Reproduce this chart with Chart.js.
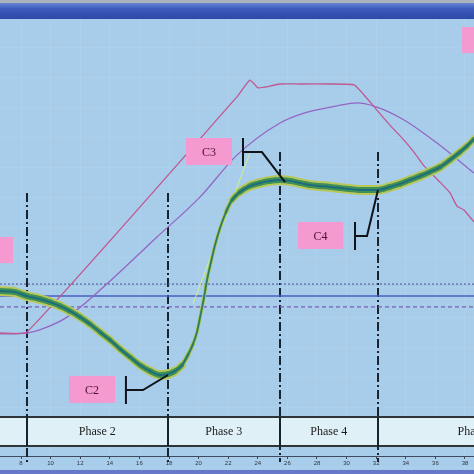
<!DOCTYPE html>
<html>
<head>
<meta charset="utf-8">
<script src="https://cdn.jsdelivr.net/npm/chart.js@4.4.1/dist/chart.umd.min.js"></script>
<style>
    html, body { margin: 0; padding: 0; background: #a7cdeb; }
    canvas { display: block; }
</style>
</head>
<body>
<canvas id="chart" width="474" height="474"></canvas>
<script>
// time axis (x) and signal levels (arbitrary units)
const signalX = [6.58, 7.53, 8.40, 9.28, 9.96, 10.63, 11.31, 11.99, 12.66, 13.34, 14.01, 14.69,
    15.36, 16.04, 16.72, 17.39, 17.93, 18.40, 18.88, 19.28, 19.62, 19.89, 20.09, 20.36, 20.57,
    20.84, 21.11, 21.45, 21.85, 22.26, 22.80, 23.47, 24.15, 24.82, 25.50, 26.18, 26.85, 27.53,
    28.20, 28.88, 29.55, 30.23, 30.91, 31.58, 32.12, 32.93, 33.61, 34.28, 34.96, 35.63, 36.31,
    36.99, 37.66, 38.13, 38.61];
const signalY = [58.7, 58.4, 57.0, 56.0, 55.0, 53.7, 52.0, 50.0, 47.7, 45.0, 42.4, 39.4,
    36.7, 34.0, 32.0, 30.7, 31.0, 32.0, 34.0, 37.4, 41.0, 45.0, 49.7, 56.4, 62.4,
    68.4, 74.0, 79.7, 85.0, 89.0, 91.7, 93.7, 94.7, 95.4, 95.7, 95.4, 94.7, 94.0,
    93.7, 93.4, 93.0, 92.7, 92.4, 92.4, 92.4, 93.4, 94.4, 95.7, 97.0, 98.4, 100.0,
    102.4, 105.0, 107.0, 109.4];

const setpointX = [6.58, 8.40, 22.59, 23.47, 24.01, 24.49, 25.50, 26.85, 28.88, 30.50, 31.24,
    32.05, 32.93, 33.88, 34.55, 35.23, 36.31, 36.99, 37.46, 37.93, 38.61];
const setpointY = [44.7, 45.0, 123.4, 129.0, 126.4, 126.7, 127.7, 127.7, 127.7, 127.4, 123.7,
    119.0, 114.0, 109.0, 105.0, 100.4, 95.0, 91.4, 87.0, 85.7, 81.7];

const responseX = [6.58, 8.40, 9.62, 11.11, 13.34, 17.19, 20.09, 22.59, 25.50, 27.12, 29.35,
    30.70, 32.05, 33.88, 36.11, 38.61];
const responseY = [44.4, 44.7, 46.4, 50.0, 59.0, 76.7, 90.0, 104.0, 114.7, 118.0, 120.4,
    121.4, 120.0, 115.7, 108.0, 98.0];

const tangentX = [19.62, 23.47];
const tangentY = [54.4, 104.7];

const refLevels = [61.0, 57.0, 53.4];

const phaseBounds = [8.4, 17.9, 25.5, 32.1];
const phaseLineTops = [91.4, 91.4, 105.0, 105.0];
const phaseLabels = ["Phase 1", "Phase 2", "Phase 3", "Phase 4", "Phase 5"];
const phaseLabelX = [5.2, 13.15, 21.7, 28.8, 38.75];

const xMin = 6.58;
const xMax = 38.61;

const noteBoxes = [
    { text: "", x0: 6.0, x1: 7.46, y0: 76.7, y1: 68.0 },
    { text: "C2", x0: 11.24, x1: 14.35, y0: 30.4, y1: 21.4 },
    { text: "C3", x0: 19.15, x1: 22.26, y0: 109.7, y1: 100.7 },
    { text: "C4", x0: 26.72, x1: 29.76, y0: 81.7, y1: 72.7 },
    { text: "", x0: 37.8, x1: 39.5, y0: 146.7, y1: 138.0 }
];

const brackets = [
    { x: 15.09, top: 30.4, bottom: 21.0, mid: 25.7, elbow: 16.24, tipX: 17.93, tipY: 30.7 },
    { x: 23.0, top: 109.7, bottom: 100.4, mid: 105.0, elbow: 24.28, tipX: 25.84, tipY: 95.0 },
    { x: 30.57, top: 81.7, bottom: 72.4, mid: 77.0, elbow: 31.38, tipX: 32.12, tipY: 92.4 }
];

function toPoints(xs, ys) {
    return xs.map((x, i) => ({ x, y: ys[i] }));
}

// noise band is vertical, so it looks thinner where the curve is steep
function bandWidth(base) {
    return ctx => {
        const dx = ctx.p1.x - ctx.p0.x;
        const dy = ctx.p1.y - ctx.p0.y;
        const c = Math.abs(dx) / (Math.hypot(dx, dy) || 1);
        return Math.max(base * c, base * 0.35);
    };
}

function signalLayer(color, width, order) {
    return {
        data: toPoints(signalX, signalY),
        borderColor: color,
        borderWidth: width,
        borderCapStyle: "round",
        borderJoinStyle: "round",
        cubicInterpolationMode: "monotone",
        segment: { borderWidth: bandWidth(width) },
        pointRadius: 0,
        order
    };
}

const refStyles = [
    { color: "#56629c", width: 1.2, dash: [2, 2] },
    { color: "#4b5cc2", width: 1.5, dash: [] },
    { color: "#7d5cb4", width: 1.2, dash: [4, 3] }
];

const refDatasets = refLevels.map((level, i) => ({
    data: [{ x: xMin, y: level }, { x: xMax, y: level }],
    borderColor: refStyles[i].color,
    borderWidth: refStyles[i].width,
    borderDash: refStyles[i].dash,
    pointRadius: 0,
    order: 10
}));

const decorPlugin = {
    id: "decor",
    beforeDraw(chart) {
        const { ctx, width, height } = chart;
        ctx.save();
        ctx.fillStyle = "#a7cdeb";
        ctx.fillRect(0, 0, width, height);
        ctx.restore();
    },
    beforeDatasetsDraw(chart) {
        const { ctx, width } = chart;
        const xs = chart.scales.x;
        const ys = chart.scales.y;
        const bandTop = ys.getPixelForValue(16.7);
        const bandBottom = ys.getPixelForValue(7.0);
        ctx.save();

        // phase band
        ctx.fillStyle = "#dff1f7";
        ctx.fillRect(0, bandTop, width, bandBottom - bandTop);
        ctx.strokeStyle = "#2e3438";
        ctx.lineWidth = 2;
        ctx.beginPath();
        ctx.moveTo(0, bandTop);
        ctx.lineTo(width, bandTop);
        ctx.moveTo(0, bandBottom);
        ctx.lineTo(width, bandBottom);
        ctx.stroke();

        ctx.fillStyle = "#1c1c1c";
        ctx.font = "12px 'Liberation Serif', serif";
        ctx.textAlign = "center";
        ctx.textBaseline = "middle";
        phaseLabels.forEach((label, i) => {
            ctx.fillText(label, xs.getPixelForValue(phaseLabelX[i]), (bandTop + bandBottom) / 2);
        });

        // phase boundaries
        phaseBounds.forEach((b, i) => {
            const x = Math.round(xs.getPixelForValue(b));
            ctx.strokeStyle = "#17232e";
            ctx.lineWidth = 2;
            ctx.setLineDash([9, 3, 2, 3]);
            ctx.beginPath();
            ctx.moveTo(x, ys.getPixelForValue(phaseLineTops[i]));
            ctx.lineTo(x, ys.getPixelForValue(1.7));
            ctx.stroke();
            ctx.setLineDash([]);
            ctx.beginPath();
            ctx.moveTo(x, bandTop);
            ctx.lineTo(x, bandBottom);
            ctx.stroke();
        });
        ctx.restore();
    },
    afterDatasetsDraw(chart) {
        const { ctx } = chart;
        const xs = chart.scales.x;
        const ys = chart.scales.y;
        ctx.save();

        noteBoxes.forEach(box => {
            const x0 = xs.getPixelForValue(box.x0);
            const x1 = xs.getPixelForValue(box.x1);
            const y0 = ys.getPixelForValue(box.y0);
            const y1 = ys.getPixelForValue(box.y1);
            ctx.fillStyle = "#f49ad0";
            ctx.fillRect(x0, y0, x1 - x0, y1 - y0);
            if (box.text) {
                ctx.fillStyle = "#4a1230";
                ctx.font = "12px 'Liberation Serif', serif";
                ctx.textAlign = "center";
                ctx.textBaseline = "middle";
                ctx.fillText(box.text, (x0 + x1) / 2, (y0 + y1) / 2 + 1);
            }
        });

        ctx.strokeStyle = "#101418";
        ctx.lineWidth = 2;
        brackets.forEach(b => {
            const x = xs.getPixelForValue(b.x);
            ctx.beginPath();
            ctx.moveTo(x, ys.getPixelForValue(b.top));
            ctx.lineTo(x, ys.getPixelForValue(b.bottom));
            ctx.moveTo(x, ys.getPixelForValue(b.mid));
            ctx.lineTo(xs.getPixelForValue(b.elbow), ys.getPixelForValue(b.mid));
            ctx.lineTo(xs.getPixelForValue(b.tipX), ys.getPixelForValue(b.tipY));
            ctx.stroke();
        });
        ctx.restore();
    },
    afterDraw(chart) {
        const { ctx, width, height } = chart;
        ctx.save();
        ctx.fillStyle = "#aab2be";
        ctx.fillRect(0, 0, width, 3);
        const grad = ctx.createLinearGradient(0, 3, 0, 19);
        grad.addColorStop(0, "#6a86d6");
        grad.addColorStop(0.35, "#3d5cbc");
        grad.addColorStop(1, "#2c49a6");
        ctx.fillStyle = grad;
        ctx.fillRect(0, 3, width, 16);
        ctx.fillStyle = "#6676c8";
        ctx.fillRect(0, height - 4, width, 4);
        ctx.restore();
    }
};

new Chart(document.getElementById("chart"), {
    type: "line",
    data: {
        datasets: [
            signalLayer("#1e6c7c", 2, 1),
            signalLayer("#3f9156", 6, 2),
            signalLayer("#b8c85c", 10, 3),
            {
                data: toPoints(tangentX, tangentY),
                borderColor: "#cdf08c",
                borderWidth: 1,
                pointRadius: 0,
                order: 4
            },
            {
                data: toPoints(setpointX, setpointY),
                borderColor: "#c0588e",
                borderWidth: 1.3,
                pointRadius: 0,
                tension: 0.15,
                order: 6
            },
            {
                data: toPoints(responseX, responseY),
                borderColor: "#9466c4",
                borderWidth: 1.3,
                pointRadius: 0,
                cubicInterpolationMode: "monotone",
                order: 7
            },
            ...refDatasets
        ]
    },
    options: {
        responsive: false,
        animation: false,
        events: [],
        layout: { padding: 0 },
        plugins: {
            legend: { display: false },
            tooltip: { enabled: false }
        },
        scales: {
            x: {
                type: "linear",
                min: xMin,
                max: xMax,
                position: { y: 3.4 },
                grid: {
                    color: "rgba(255,255,255,0.08)",
                    tickLength: 2,
                    tickColor: "#3a4658"
                },
                border: { color: "#3f4a5e", width: 1 },
                ticks: {
                    stepSize: 2,
                    includeBounds: false,
                    autoSkip: false,
                    maxRotation: 0,
                    padding: 1,
                    color: "#2f3540",
                    font: { size: 6, family: "'Liberation Sans', sans-serif" }
                }
            },
            y: {
                type: "linear",
                min: -2.3,
                max: 155.7,
                grid: {
                    color: "rgba(255,255,255,0.08)",
                    drawTicks: false
                },
                border: { display: false },
                ticks: { display: false, stepSize: 10, includeBounds: false }
            }
        }
    },
    plugins: [decorPlugin]
});
</script>
</body>
</html>
